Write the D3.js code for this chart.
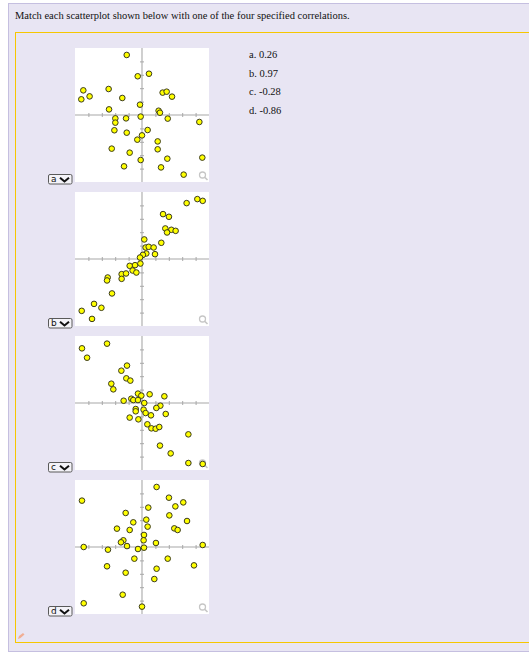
<!DOCTYPE html>
<html>
<head>
<meta charset="utf-8">
<script src="https://cdn.jsdelivr.net/npm/d3@7"></script>
<style>
  html, body { margin: 0; padding: 0; background: #ffffff; }
  svg { display: block; }
</style>
</head>
<body>
<svg id="chart" width="529" height="653"></svg>
<script>
// ---------- data ----------
const headerText = "Match each scatterplot shown below with one of the four specified correlations.";
const answerLabels = ["a. 0.26", "b. 0.97", "c. -0.28", "d. -0.86"];
const selectLabels = ["a", "b", "c", "d"];
const tickValues = [-4, -3, -2, -1, 1, 2, 3, 4];
const axisDomain = [-5, 5];

const plotA = [
  [-1.14, 4.48], [-0.32, 2.89], [0.52, 3.08], [-4.38, 1.84], [-4.53, 1.17], [-3.91, 1.39],
  [-2.49, 1.94], [-1.47, 1.27], [1.54, 1.67], [1.84, 1.74], [2.24, 1.37], [-0.15, 0.77],
  [-2.46, 0.42], [1.24, 0.32], [1.34, 0.17], [-1.99, -0.25], [-1.99, -0.57], [-1.19, -0.25],
  [-0.10, -0.12], [1.92, -0.27], [4.28, -0.52], [-2.06, -1.14], [-1.14, -1.32], [0.42, -1.12],
  [0.00, -1.52], [-0.35, -1.84], [1.17, -1.97], [1.17, -2.56], [-2.26, -2.51], [-0.92, -2.81],
  [-0.10, -3.36], [1.89, -3.26], [4.50, -3.18], [-1.34, -3.83], [1.42, -3.91], [3.11, -4.45]
];
const plotB = [
  [4.13, 4.47], [4.53, 4.34], [3.33, 4.17], [1.57, 3.35], [2.01, 3.15], [1.74, 2.28],
  [2.19, 2.18], [2.51, 2.10], [1.87, 1.98], [0.17, 1.46], [1.44, 1.21], [0.27, 0.86],
  [0.50, 0.91], [0.87, 0.86], [0.32, 0.41], [0.97, 0.36], [0.07, 0.31], [-0.15, 0.11],
  [-0.12, -0.34], [-0.52, -0.46], [-0.92, -0.51], [-0.70, -0.86], [-0.42, -1.01], [-1.52, -1.13],
  [-1.19, -1.08], [-1.52, -1.48], [-2.56, -1.38], [-2.61, -1.60], [-2.24, -2.57], [-3.58, -3.35],
  [-3.03, -3.64], [-4.50, -3.87], [-3.73, -4.47]
];
const plotC = [
  [-4.48, 4.08], [-2.61, 4.43], [-4.10, 3.38], [-1.12, 2.79], [-1.54, 2.41], [-1.17, 1.84],
  [-0.87, 1.67], [-2.29, 1.44], [-2.14, 1.02], [-0.30, 0.70], [-0.05, 0.55], [0.57, 0.65],
  [1.67, 0.50], [-1.37, 0.17], [-0.80, 0.32], [-0.65, 0.22], [-0.30, 0.22], [0.17, 0.00],
  [1.37, -0.20], [1.07, -0.37], [-0.47, -0.45], [-0.47, -0.62], [0.12, -0.50], [0.27, -0.75],
  [0.67, -0.92], [1.77, -0.82], [-0.92, -1.09], [-0.27, -1.22], [0.40, -1.59], [0.70, -1.89],
  [1.02, -1.92], [1.29, -1.79], [3.46, -2.34], [1.34, -3.18], [2.14, -3.76], [3.46, -4.48],
  [4.53, -4.55]
];
const plotD = [
  [1.09, 4.48], [-4.48, 3.46], [2.01, 3.68], [3.08, 3.33], [2.49, 3.03], [0.47, 2.94],
  [-1.22, 2.54], [2.04, 2.36], [3.36, 1.94], [-0.65, 1.84], [0.32, 2.04], [0.42, 1.52],
  [-1.87, 1.37], [-0.92, 1.27], [2.41, 1.39], [2.66, 1.27], [0.15, 0.90], [0.12, 0.50],
  [-1.39, 0.50], [-1.57, 0.35], [-1.12, 0.07], [1.04, 0.30], [-4.35, 0.00], [-2.54, -0.20],
  [-0.30, -0.15], [0.15, -0.05], [4.53, 0.15], [-0.57, -0.87], [1.92, -0.87], [-2.61, -1.44],
  [3.88, -1.37], [1.09, -1.62], [-1.22, -1.92], [0.92, -2.39], [-1.44, -3.56], [-4.35, -4.20],
  [0.00, -4.45]
];
const plots = [plotA, plotB, plotC, plotD];

// ---------- layout ----------
const svg = d3.select("#chart");
const serif = "'Liberation Serif', 'Times New Roman', Times, serif";
const size = 134, plotX = 75, plotY0 = 48, plotStep = 144;

// outer panel
svg.append("rect").attr("x", 8.5).attr("y", 3.5).attr("width", 600).attr("height", 648)
  .attr("fill", "#e8e5f3").attr("stroke", "#c5bfe0").attr("stroke-width", 1);
// yellow frame
svg.append("rect").attr("x", 15.5).attr("y", 32.5).attr("width", 600).attr("height", 610)
  .attr("fill", "none").attr("stroke", "#f6c700").attr("stroke-width", 1);

svg.append("text").attr("x", 15).attr("y", 18.5)
  .attr("font-family", serif).attr("font-size", 10.5).attr("fill", "#111")
  .text(headerText);

svg.selectAll("text.ans").data(answerLabels).join("text").attr("class", "ans")
  .attr("x", 249).attr("y", (d, i) => 58 + i * 18.5)
  .attr("font-family", serif).attr("font-size", 10.5).attr("fill", "#111")
  .text(d => d);

const x = d3.scaleLinear().domain(axisDomain).range([0, size]);
const y = d3.scaleLinear().domain(axisDomain).range([size, 0]);

plots.forEach((pts, i) => {
  const g = svg.append("g").attr("transform", `translate(${plotX},${plotY0 + i * plotStep})`);
  g.append("rect").attr("width", size).attr("height", size).attr("fill", "#ffffff");

  // axis lines
  g.append("line").attr("x1", x(axisDomain[0])).attr("x2", x(axisDomain[1]))
    .attr("y1", y(0)).attr("y2", y(0)).attr("stroke", "#c4c4c4").attr("stroke-width", 1.6);
  g.append("line").attr("y1", y(axisDomain[0])).attr("y2", y(axisDomain[1]))
    .attr("x1", x(0)).attr("x2", x(0)).attr("stroke", "#c4c4c4").attr("stroke-width", 1.6);

  // ticks (crossing the axis)
  const xa = d3.axisBottom(x).tickValues(tickValues).tickSize(4).tickSizeOuter(0).tickFormat("");
  const gx = g.append("g").attr("transform", `translate(0,${y(0) - 2})`).call(xa);
  gx.select(".domain").remove();
  gx.selectAll(".tick line").attr("stroke", "#a8a8a8");
  const ya = d3.axisLeft(y).tickValues(tickValues).tickSize(4).tickSizeOuter(0).tickFormat("");
  const gy = g.append("g").attr("transform", `translate(${x(0) + 2},0)`).call(ya);
  gy.select(".domain").remove();
  gy.selectAll(".tick line").attr("stroke", "#a8a8a8");

  // magnifier icon
  const mg = g.append("g").attr("transform", `translate(${size - 6.5},${size - 7})`);
  mg.append("circle").attr("r", 3).attr("fill", "none").attr("stroke", "#c6c6c6").attr("stroke-width", 1.3);
  mg.append("line").attr("x1", 2.2).attr("y1", 2.2).attr("x2", 5).attr("y2", 5)
    .attr("stroke", "#c6c6c6").attr("stroke-width", 1.6);

  // points
  g.selectAll("circle.pt").data(pts).join("circle").attr("class", "pt")
    .attr("cx", d => x(d[0])).attr("cy", d => y(d[1])).attr("r", 2.8)
    .attr("fill", "#ffff00").attr("stroke", "#3a3a20").attr("stroke-width", 1);

  // dropdown
  const sg = svg.append("g").attr("transform", `translate(48.5,${plotY0 + i * plotStep + 126.5})`);
  sg.append("rect").attr("width", 23.5).attr("height", 9.5).attr("rx", 1.5)
    .attr("fill", "#f4f3f8").attr("stroke", "#5a5a5a").attr("stroke-width", 1);
  sg.append("text").attr("x", 2.5).attr("y", 7.8).attr("font-family", "'DejaVu Sans', Arial, sans-serif")
    .attr("font-size", 9).attr("fill", "#111").text(selectLabels[i]);
  sg.append("path").attr("d", "M11.5,3.2 L16,7 L20.5,3.2").attr("fill", "none")
    .attr("stroke", "#111").attr("stroke-width", 2).attr("stroke-linejoin", "miter");
});

// small pencil icon
svg.append("path").attr("d", "M18,639 L19,636 L23,633 L24.5,634.5 L20.5,638 Z")
  .attr("fill", "#f2a07c").attr("opacity", 0.8);
</script>
</body>
</html>
